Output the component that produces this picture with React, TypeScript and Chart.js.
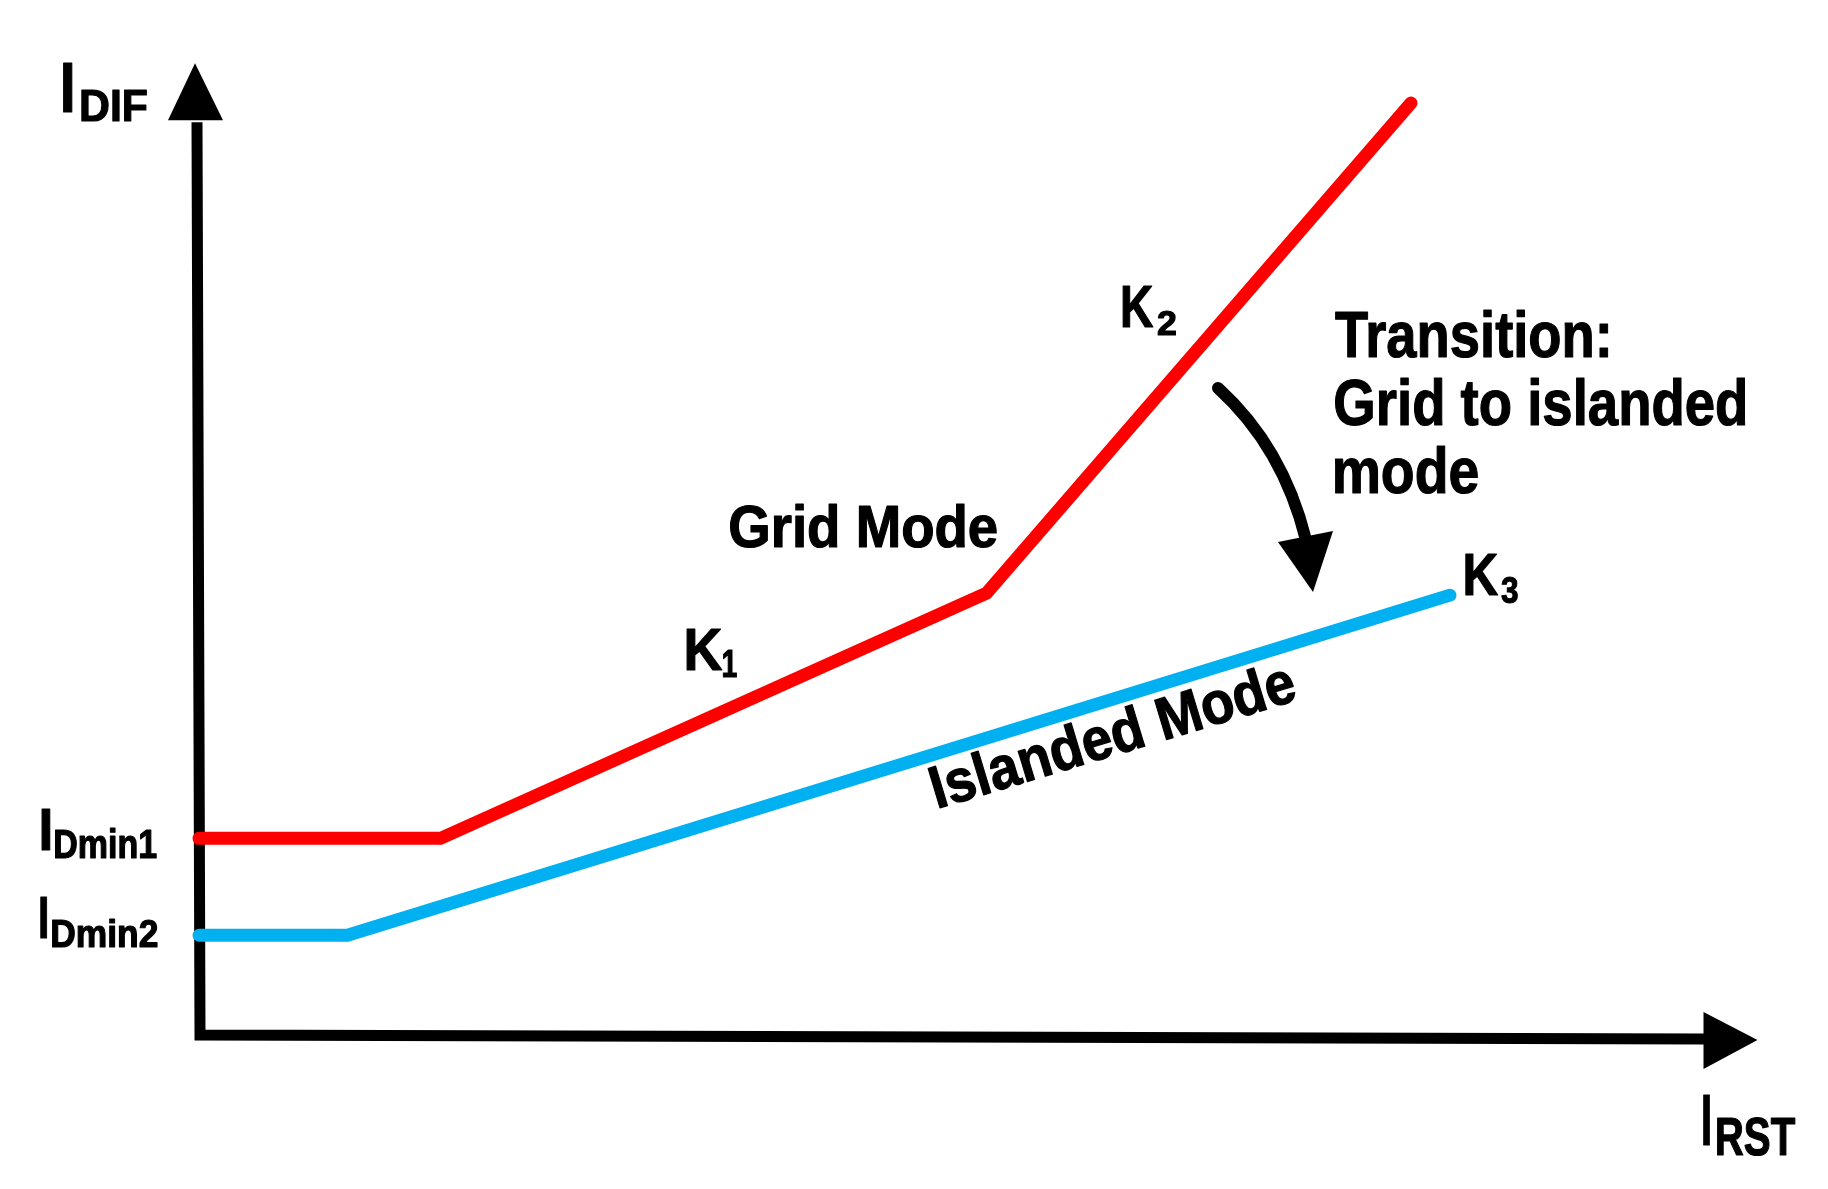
import React, { useEffect, useRef } from "react";
import { Chart, registerables } from "chart.js";

Chart.register(...registerables);

// ---- Data (arbitrary units) ----
const GRID_IRST = [0, 16.1, 52.5, 80.8];
const GRID_IDIF = [20.7, 20.7, 46.5, 98.1];
const ISL_IRST = [0, 9.9, 83.4];
const ISL_IDIF = [10.5, 10.5, 46.3];

const X_MIN = 0;
const X_MAX = 100;
const Y_MIN = 0;
const Y_MAX = 100;

// axis extents (data units): end of shaft and tip of arrowhead
const X_AXIS_END = 100.3;
const X_AXIS_TIP = 103.9;
const Y_AXIS_END = 96.3;
const Y_AXIS_TIP = 102.3;

const RED = "#FF0000";
const BLUE = "#00B0F0";
const FONT = 'Arial, "Liberation Sans", Helvetica, sans-serif';

type Label = {
  text: string;
  left: number;
  right: number;
  baseline: number;
  cap: number;
  rot?: number;
};

const LABELS: Label[] = [
  { text: "I", left: 63, right: 72, baseline: 112, cap: 49 },
  { text: "DIF", left: 81, right: 147, baseline: 121, cap: 31 },
  { text: "I", left: 42, right: 50, baseline: 850, cap: 42 },
  { text: "Dmin1", left: 55, right: 157, baseline: 858, cap: 28 },
  { text: "I", left: 40, right: 47, baseline: 938, cap: 41 },
  { text: "Dmin2", left: 52, right: 157, baseline: 947, cap: 27 },
  { text: "I", left: 1703, right: 1710, baseline: 1145, cap: 50 },
  { text: "RST", left: 1717, right: 1795, baseline: 1155, cap: 37 },
  { text: "K", left: 687, right: 722, baseline: 670, cap: 42 },
  { text: "1", left: 723, right: 737, baseline: 677, cap: 27 },
  { text: "K", left: 1123, right: 1153, baseline: 327, cap: 42 },
  { text: "2", left: 1158, right: 1176, baseline: 335, cap: 25 },
  { text: "K", left: 1465, right: 1498, baseline: 595, cap: 41 },
  { text: "3", left: 1501, right: 1518, baseline: 603, cap: 26 },
  { text: "Grid Mode", left: 730, right: 997, baseline: 547, cap: 42 },
  { text: "Transition:", left: 1335, right: 1608, baseline: 357, cap: 46 },
  { text: "Grid to islanded", left: 1335, right: 1745, baseline: 425, cap: 46 },
  { text: "mode", left: 1335, right: 1478, baseline: 493, cap: 46 },
  { text: "Islanded Mode", left: 940, right: 940 + 374, baseline: 808, cap: 42, rot: (-16.8 * Math.PI) / 180 },
];

function drawFit(ctx: CanvasRenderingContext2D, l: Label) {
  ctx.save();
  ctx.font = `bold 100px ${FONT}`;
  const capRef = ctx.measureText("H").actualBoundingBoxAscent || 71.6;
  const size = (l.cap / capRef) * 100;
  ctx.font = `bold ${size}px ${FONT}`;
  ctx.textAlign = "left";
  ctx.textBaseline = "alphabetic";
  const m = ctx.measureText(l.text);
  const ink = m.actualBoundingBoxLeft + m.actualBoundingBoxRight;
  const sx = ink > 0 ? (l.right - l.left) / ink : 1;
  ctx.translate(l.left, l.baseline);
  if (l.rot) ctx.rotate(l.rot);
  ctx.scale(sx, 1);
  ctx.fillStyle = "#000";
  ctx.strokeStyle = "#000";
  ctx.lineWidth = 1.2;
  ctx.lineJoin = "round";
  ctx.fillText(l.text, m.actualBoundingBoxLeft, 0);
  ctx.strokeText(l.text, m.actualBoundingBoxLeft, 0);
  ctx.restore();
}

const axesPlugin = {
  id: "axesPlugin",
  beforeDatasetsDraw(chart: any) {
    const ctx: CanvasRenderingContext2D = chart.ctx;
    const xs = chart.scales.x;
    const ys = chart.scales.y;
    const ox = xs.getPixelForValue(0);
    const oy = ys.getPixelForValue(0);
    const yEnd = ys.getPixelForValue(Y_AXIS_END);
    const yTip = ys.getPixelForValue(Y_AXIS_TIP);
    const xEnd = xs.getPixelForValue(X_AXIS_END);
    const xTip = xs.getPixelForValue(X_AXIS_TIP);
    ctx.save();
    ctx.strokeStyle = "#000";
    ctx.fillStyle = "#000";
    ctx.lineWidth = 11;
    ctx.lineJoin = "miter";
    ctx.lineCap = "butt";
    ctx.beginPath();
    ctx.moveTo(ox - 2, yEnd + 2);
    ctx.lineTo(ox + 1, oy);
    ctx.lineTo(xEnd + 2, oy + 4);
    ctx.stroke();
    // y arrowhead
    ctx.beginPath();
    ctx.moveTo(ox - 4, yTip);
    ctx.lineTo(ox - 31, yEnd);
    ctx.lineTo(ox + 24, yEnd);
    ctx.closePath();
    ctx.fill();
    // x arrowhead
    ctx.beginPath();
    ctx.moveTo(xTip, oy + 5);
    ctx.lineTo(xEnd, oy - 23);
    ctx.lineTo(xEnd, oy + 34);
    ctx.closePath();
    ctx.fill();
    ctx.restore();
  },
  afterDatasetsDraw(chart: any) {
    const ctx: CanvasRenderingContext2D = chart.ctx;
    ctx.save();
    // curved transition arrow
    ctx.strokeStyle = "#000";
    ctx.fillStyle = "#000";
    ctx.lineWidth = 12;
    ctx.lineCap = "round";
    ctx.beginPath();
    ctx.moveTo(1218, 388);
    ctx.quadraticCurveTo(1283, 447, 1306, 540);
    ctx.stroke();
    ctx.beginPath();
    ctx.moveTo(1278, 542);
    ctx.lineTo(1333, 531);
    ctx.lineTo(1313, 592);
    ctx.closePath();
    ctx.fill();
    ctx.restore();
    for (const l of LABELS) drawFit(ctx, l);
  },
};

export default function App() {
  const ref = useRef<HTMLCanvasElement | null>(null);
  useEffect(() => {
    if (!ref.current) return;
    const chart = new Chart(ref.current, {
      type: "line",
      data: {
        datasets: [
          {
            label: "Grid Mode",
            data: GRID_IRST.map((x, i) => ({ x, y: GRID_IDIF[i] })),
            borderColor: RED,
            backgroundColor: RED,
            borderWidth: 13,
            borderCapStyle: "round",
            borderJoinStyle: "miter",
            pointRadius: 0,
            tension: 0,
            clip: false,
          } as any,
          {
            label: "Islanded Mode",
            data: ISL_IRST.map((x, i) => ({ x, y: ISL_IDIF[i] })),
            borderColor: BLUE,
            backgroundColor: BLUE,
            borderWidth: 13,
            borderCapStyle: "round",
            borderJoinStyle: "miter",
            pointRadius: 0,
            tension: 0,
            clip: false,
          } as any,
        ],
      },
      options: {
        responsive: false,
        animation: false,
        devicePixelRatio: 1,
        layout: { padding: { left: 199, right: 129, top: 85, bottom: 154 } },
        scales: {
          x: { type: "linear", min: X_MIN, max: X_MAX, display: false },
          y: { type: "linear", min: Y_MIN, max: Y_MAX, display: false },
        },
        plugins: {
          legend: { display: false },
          tooltip: { enabled: false },
        },
        events: [],
      },
      plugins: [axesPlugin],
    });
    return () => chart.destroy();
  }, []);
  return (
    <div style={{ position: "absolute", left: 0, top: 0, width: 1828, height: 1189, background: "#fff" }}>
      <canvas ref={ref} width={1828} height={1189} style={{ display: "block", width: 1828, height: 1189 }} />
    </div>
  );
}
